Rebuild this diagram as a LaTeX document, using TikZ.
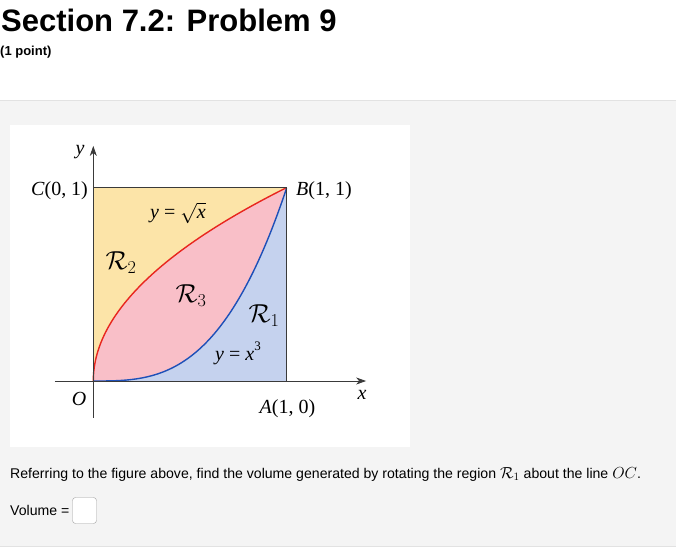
\RequirePackage{fix-cm}
\documentclass[tikz,border=0pt]{standalone}
\usepackage[no-math]{fontspec}
\setmainfont{Liberation Sans}
\newfontfamily\figfont{Liberation Serif}
\usetikzlibrary{arrows.meta}
\definecolor{bggray}{HTML}{F4F4F4}
\definecolor{sepgray}{HTML}{E2E2E2}
\definecolor{boxgray}{HTML}{A0A0A0}
\definecolor{ryellow}{HTML}{FCE4A8}
\definecolor{rpink}{HTML}{F9BFC8}
\definecolor{rblue}{HTML}{C5D2EE}
\definecolor{cred}{HTML}{E8261E}
\definecolor{cblue}{HTML}{1E50B8}
\definecolor{axgray}{HTML}{3A3A3A}
\begin{document}
\begin{tikzpicture}[x=1pt,y=-1pt,
  title/.style={font=\fontsize{31}{31}\selectfont\bfseries, inner sep=0, anchor=base west},
  pts/.style={font=\fontsize{13}{13}\selectfont\bfseries, inner sep=0, anchor=base west},
  ui/.style={font=\fontsize{14.1}{14}\selectfont, inner sep=0, anchor=base west},
  lbl/.style={font=\figfont\fontsize{20}{20}\selectfont, inner sep=0},
  rlbl/.style={font=\fontsize{26}{26}\selectfont, inner sep=0},
  axis/.style={draw=axgray, line width=0.9pt, -{Stealth[length=10pt,width=7pt,inset=3pt]}},
  curve/.style={line width=1.4pt}]
\useasboundingbox (0,0) rectangle (676,548);
\fill[white] (0,0) rectangle (676,548);
\fill[bggray] (0,101) rectangle (676,546);
\draw[sepgray, line width=1.5pt] (0,100.5) -- (676,100.5);
\draw[sepgray, line width=1pt] (0,546.5) -- (676,546.5);
\fill[white] (10,125) rectangle (410,447);

\node[title] (title) at (1,32) {Section 7.2: Problem 9};
\node[pts] (pts) at (0,56) {(1 point)};

\begin{scope}[shift={(93.3,381)}, x=193.5pt, y=193.5pt]
  \coordinate (O) at (0,0);
  \coordinate (A) at (1,0);
  \coordinate (B) at (1,1);
  \coordinate (C) at (0,1);
  \fill[ryellow] (O) rectangle (B);
  \fill[rpink] plot[domain=0:1, samples=120] ({\x*\x},{\x}) -- plot[domain=1:0, samples=120] ({\x},{\x*\x*\x}) -- cycle;
  \fill[rblue] (O) -- plot[domain=0:1, samples=120] ({\x},{\x*\x*\x}) -- (A) -- cycle;
  \draw[cred, curve] plot[domain=0:1, samples=120] ({\x*\x},{\x});
  \draw[cblue, curve] plot[domain=0:1, samples=120] ({\x},{\x*\x*\x});
  \draw[axgray, line width=0.9pt] (C) -- (B) -- (A);
  \coordinate (xs) at (-0.198,0);
  \coordinate (xe) at (1.41,0);
  \coordinate (ys) at (0,-0.191);
  \coordinate (ye) at (0,1.215);
  \draw[axis] (xs) -- (xe);
  \draw[axis] (ys) -- (ye);
\end{scope}

\node[lbl] (ylab) at (80,152) {\textit{y}};
\node[lbl] (xlab) at (362,395) {\textit{x}};
\node[lbl] (olab) at (79,399) {\textit{O}};
\node[lbl] (clab) at (59.5,191) {\textit{C}(0, 1)};
\node[lbl] (blab) at (324,191) {\textit{B}(1, 1)};
\node[lbl] (alab) at (287.5,409) {\textit{A}(1, 0)};
\node[lbl] (sqlab) at (178,213) {\textit{y} = $\sqrt{\textit{x}}$};
\node[lbl] (cublab) at (238,353) {\textit{y} = \textit{x}\raisebox{0.5em}{\fontsize{13}{13}\selectfont 3}};
\node[rlbl] (r2) at (121,263) {$\mathcal{R}_2$};
\node[rlbl] (r3) at (191,296) {$\mathcal{R}_3$};
\node[rlbl] (r1) at (264,316) {$\mathcal{R}_1$};

\node[ui] (q) at (10,478) {Referring to the figure above, find the volume generated by rotating the region {\fontsize{16}{16}\selectfont$\mathcal{R}_1$} about the line {\fontsize{16}{16}\selectfont$OC$}.};
\node[ui] (vol) at (10,515) {Volume =};
\node[draw=boxgray, fill=white, rounded corners=3pt, minimum width=24pt, minimum height=26pt, inner sep=0] (ansbox) at (84.5,510.5) {};
\end{tikzpicture}
\end{document}
